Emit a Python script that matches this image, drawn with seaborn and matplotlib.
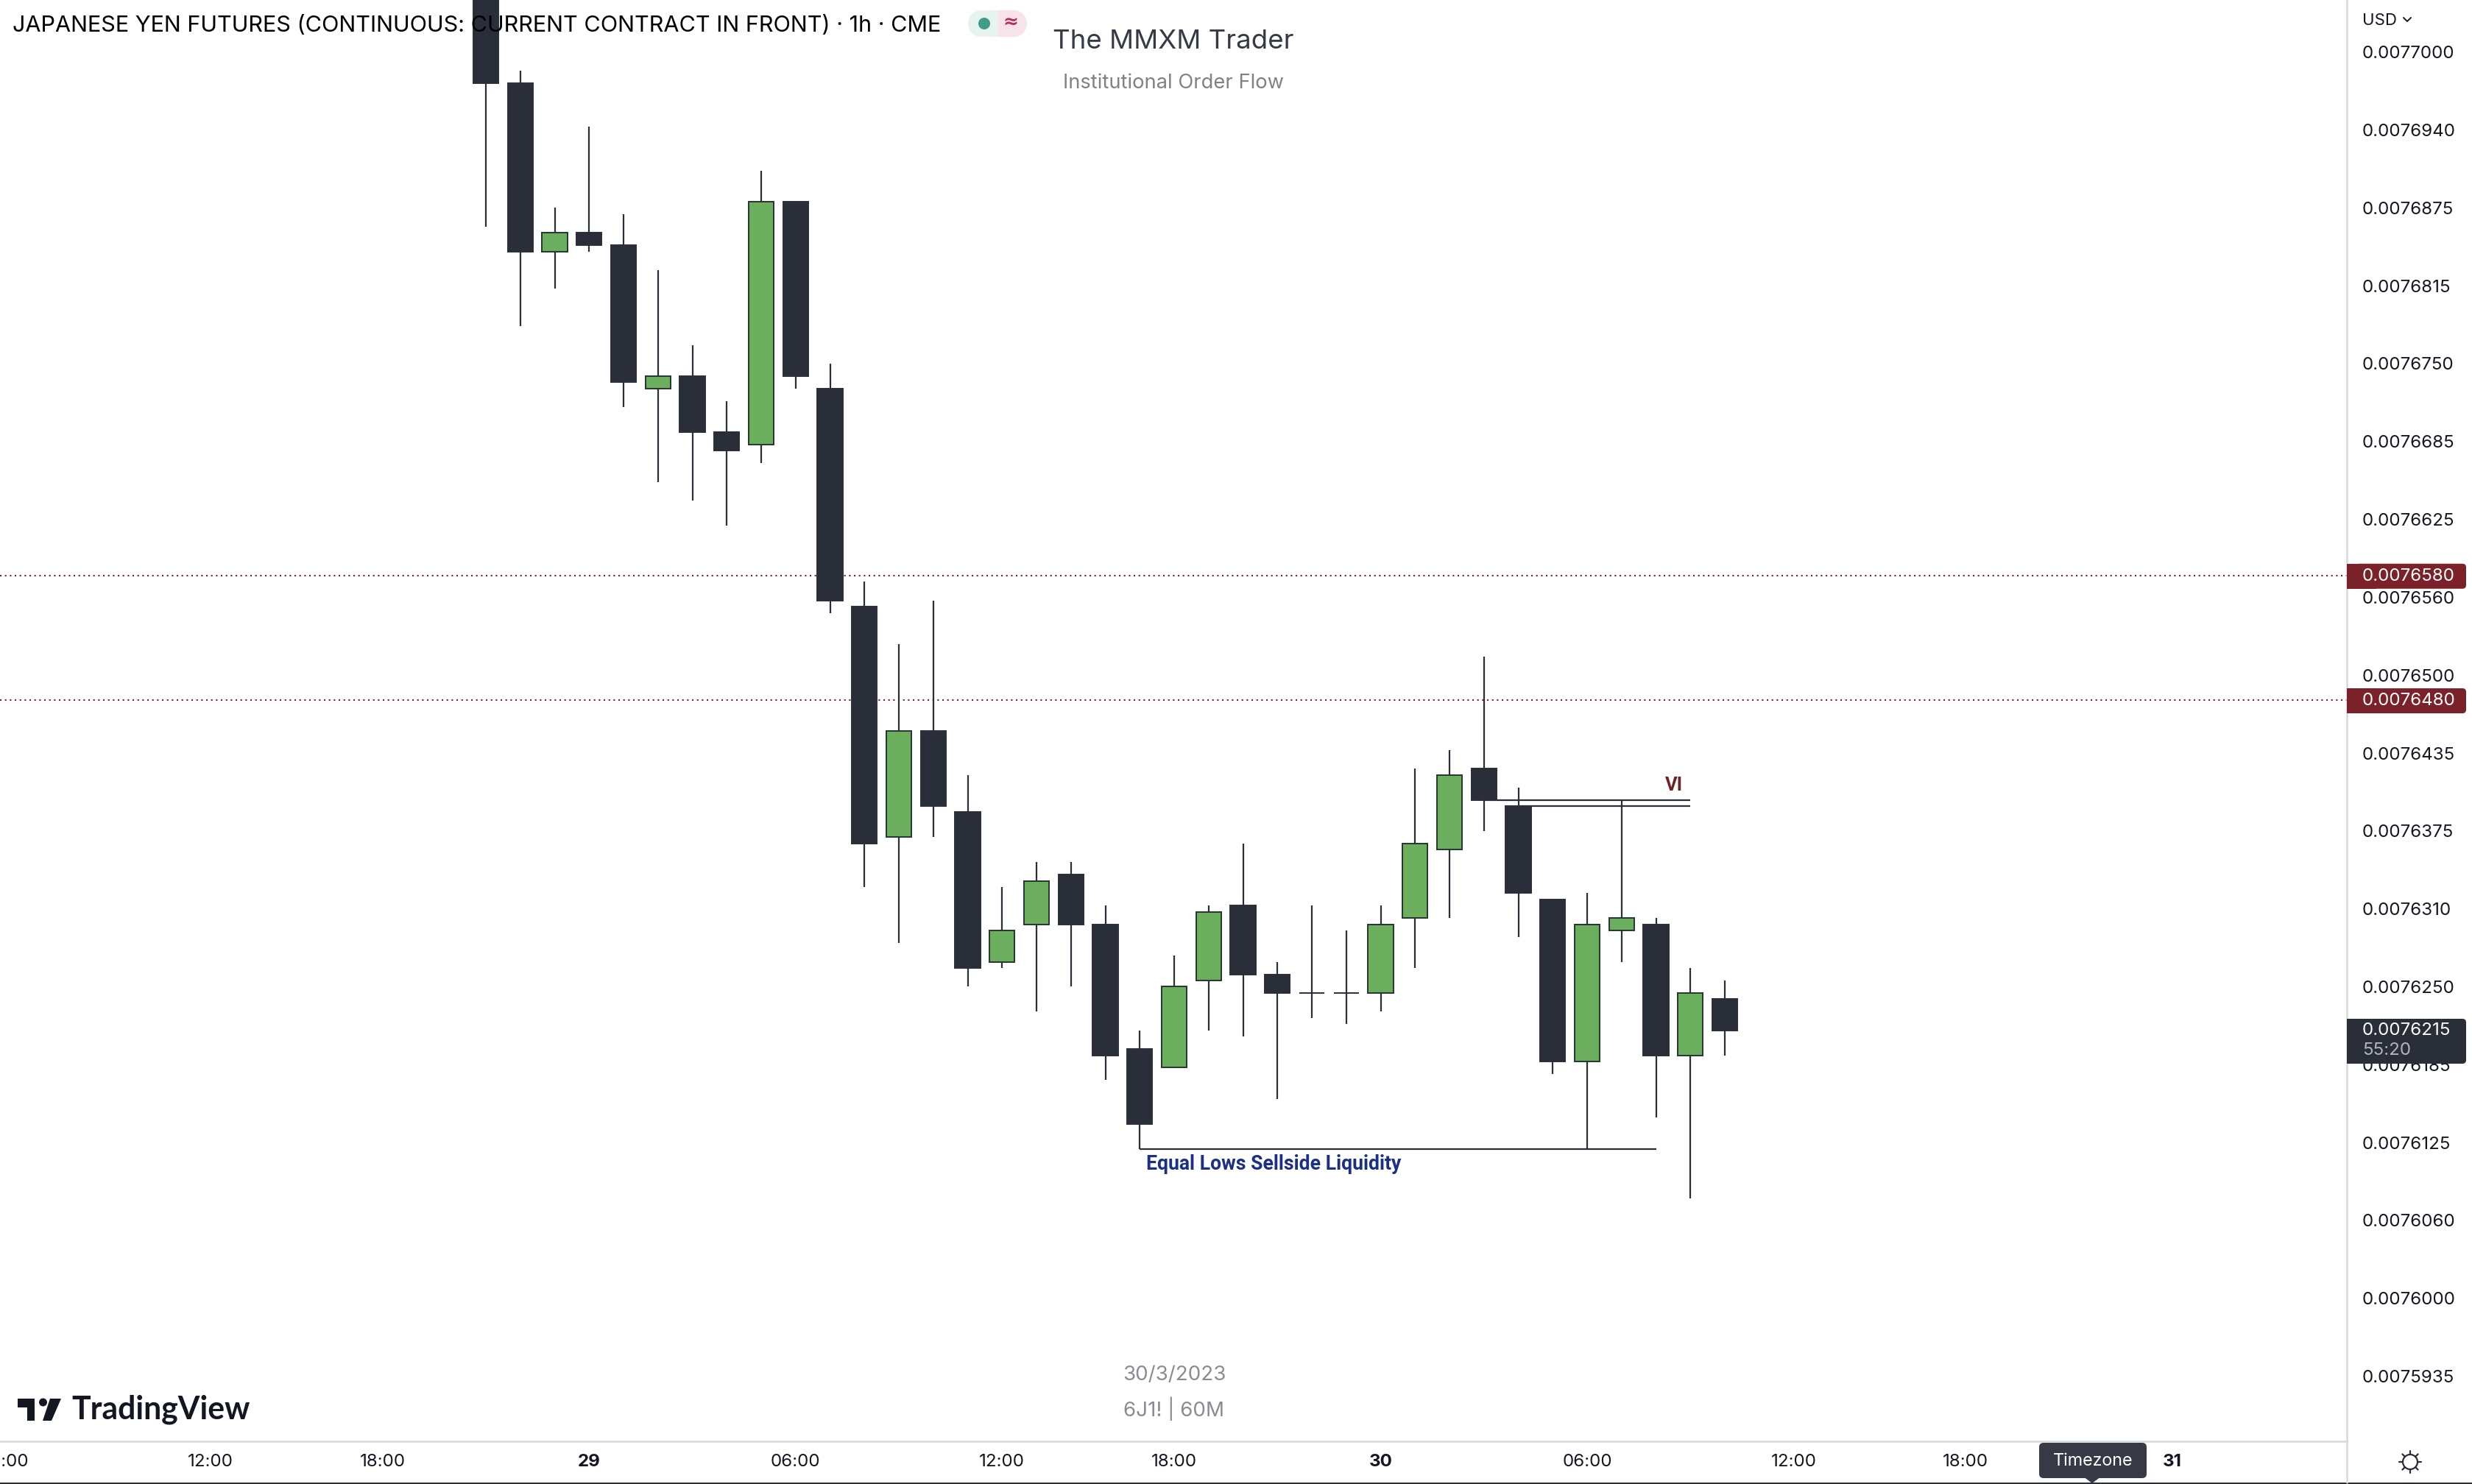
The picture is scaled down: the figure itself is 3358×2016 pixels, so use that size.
import numpy as np
import pandas as pd
import seaborn as sns
import matplotlib.pyplot as plt
from matplotlib.patches import Circle, FancyBboxPatch, Polygon, Rectangle

# candles, hourly 6J1! (first body runs off the top of the pane)
open_p = [0.0077050, 0.0076975, 0.0076840, 0.0076855, 0.0076845, 0.0076730, 0.0076740, 0.0076695, 0.0076685,
          0.0076880, 0.0076730, 0.0076555, 0.0076370, 0.0076455, 0.0076390, 0.0076270, 0.0076300, 0.0076340,
          0.0076300, 0.0076200, 0.0076185, 0.0076255, 0.0076315, 0.0076260, 0.0076245, 0.0076245, 0.0076245,
          0.0076305, 0.0076360, 0.0076425, 0.0076395, 0.0076320, 0.0076190, 0.0076295, 0.0076300, 0.0076195,
          0.0076240]
high_p = [0.0077060, 0.0076985, 0.0076875, 0.0076940, 0.0076870, 0.0076825, 0.0076765, 0.0076720, 0.0076905,
          0.0076880, 0.0076750, 0.0076575, 0.0076525, 0.0076560, 0.0076420, 0.0076330, 0.0076350, 0.0076350,
          0.0076315, 0.0076215, 0.0076275, 0.0076315, 0.0076365, 0.0076270, 0.0076315, 0.0076295, 0.0076315,
          0.0076425, 0.0076440, 0.0076515, 0.0076410, 0.0076320, 0.0076325, 0.0076400, 0.0076305, 0.0076265,
          0.0076255]
low_p = [0.0076860, 0.0076780, 0.0076810, 0.0076840, 0.0076715, 0.0076655, 0.0076640, 0.0076620, 0.0076670,
         0.0076730, 0.0076550, 0.0076330, 0.0076285, 0.0076370, 0.0076250, 0.0076265, 0.0076230, 0.0076250,
         0.0076175, 0.0076120, 0.0076185, 0.0076215, 0.0076210, 0.0076160, 0.0076225, 0.0076220, 0.0076230,
         0.0076265, 0.0076305, 0.0076375, 0.0076290, 0.0076180, 0.0076120, 0.0076270, 0.0076145, 0.0076080,
         0.0076195]
close_p = [0.0076975, 0.0076840, 0.0076855, 0.0076845, 0.0076735, 0.0076740, 0.0076695, 0.0076680, 0.0076880,
           0.0076740, 0.0076560, 0.0076365, 0.0076455, 0.0076395, 0.0076265, 0.0076295, 0.0076335, 0.0076300,
           0.0076195, 0.0076140, 0.0076250, 0.0076310, 0.0076260, 0.0076245, 0.0076245, 0.0076245, 0.0076300,
           0.0076365, 0.0076420, 0.0076400, 0.0076325, 0.0076190, 0.0076300, 0.0076305, 0.0076195, 0.0076245,
           0.0076215]

price_ticks = [0.0077, 0.00769375, 0.0076875, 0.00768125, 0.007675, 0.00766875, 0.0076625, 0.00765625, 0.00765,
               0.00764375, 0.0076375, 0.00763125, 0.007625, 0.00761875, 0.0076125, 0.00760625, 0.0076, 0.00759375]
price_labels = ['0.0077000', '0.0076940', '0.0076875', '0.0076815', '0.0076750', '0.0076685', '0.0076625',
                '0.0076560', '0.0076500', '0.0076435', '0.0076375', '0.0076310', '0.0076250', '0.0076185',
                '0.0076125', '0.0076060', '0.0076000', '0.0075935']
time_ticks = [-14, -8, -3, 3, 9, 15, 20, 26, 32, 38, 43, 49]
time_labels = ['06:00', '12:00', '18:00', '29', '06:00', '12:00', '18:00', '30', '06:00', '12:00', '18:00', '31']
day_labels = ['29', '30', '31']

level_prices = [0.0076580, 0.0076480]
last_price = 0.0076215
eql_price = 0.0076120
vi_top = 0.0076400
vi_bottom = 0.0076395

DARK = '#2a2e39'
GREEN = '#6aae5e'
GREEN_EDGE = '#25352f'
RED = '#7b2129'
AXIS_LINE = '#d9d9d9'
TEXT = '#131722'

W, H = 3358, 2016
PANE_R, PANE_B = 3188, 1958
PX_PER_PRICE = 1.693e7

sns.set_theme(style='white')
plt.rcParams['font.family'] = ['Inter', 'DejaVu Sans']

df = pd.DataFrame({'bar': np.arange(len(open_p)), 'open': open_p, 'high': high_p, 'low': low_p, 'close': close_p})
df['up'] = df['close'] > df['open']
wicks = df.melt(id_vars='bar', value_vars=['high', 'low'], value_name='price').sort_values('bar')

fig = plt.figure(figsize=(W / 200, H / 200), dpi=200, facecolor='white')
ax = fig.add_axes([0, (H - PANE_B) / H, PANE_R / W, PANE_B / H])

# dotted levels go under the candles
for p in level_prices:
    ax.axhline(p, color=RED, lw=0.75, ls=(0, (1, 2.2)), zorder=1)

# annotation lines
ax.plot([19, 34], [eql_price, eql_price], color=DARK, lw=0.8, zorder=2, solid_capstyle='butt')
ax.plot([29, 35], [vi_top, vi_top], color=DARK, lw=0.8, zorder=2, solid_capstyle='butt')
ax.plot([30, 35], [vi_bottom, vi_bottom], color=DARK, lw=0.8, zorder=2, solid_capstyle='butt')

sns.lineplot(data=wicks, x='bar', y='price', units='bar', estimator=None, color=DARK, linewidth=0.8,
             legend=False, ax=ax, zorder=3, solid_capstyle='butt')

for up, color, edge in [(True, GREEN, GREEN_EDGE), (False, DARK, DARK)]:
    part = df[df['up'] == up]
    ax.bar(part['bar'], part['close'] - part['open'], bottom=part['open'], width=0.73,
           color=color, edgecolor=edge, linewidth=0.7, zorder=4)

ax.set_xlim(-660 / 46.75, (PANE_R - 660) / 46.75)
ax.set_ylim(0.0077 - (PANE_B - 70.7) / PX_PER_PRICE, 0.0077 + 70.7 / PX_PER_PRICE)

ax.yaxis.tick_right()
ax.set_yticks(price_ticks)
ax.set_yticklabels(price_labels, fontsize=8.7, color=TEXT)
ax.set_xticks(time_ticks)
ax.set_xticklabels(time_labels, fontsize=8.7, color=TEXT)
for lab in ax.get_xticklabels():
    if lab.get_text() in day_labels:
        lab.set_fontweight('bold')
ax.tick_params(axis='y', length=0, pad=7.5)
ax.tick_params(axis='x', length=0, pad=6)
ax.set_xlabel('')
ax.set_ylabel('')
for s in ['top', 'left']:
    ax.spines[s].set_visible(False)
for s in ['right', 'bottom']:
    ax.spines[s].set_color(AXIS_LINE)
    ax.spines[s].set_linewidth(0.9)

# everything else is placed in image pixels on a clear overlay
ov = fig.add_axes([0, 0, 1, 1], facecolor='none')
ov.set_xlim(0, W)
ov.set_ylim(H, 0)
ov.axis('off')


def y_px(p):
    return 70.7 + (0.0077 - p) * PX_PER_PRICE


ov.text(1557, y_px(eql_price) + 21, 'Equal Lows Sellside Liquidity', family='Roboto', weight='bold', fontsize=9.6,
        color='#1b2f86', va='center')
ov.text(2274, 1067, 'VI', family='Roboto', weight='bold', fontsize=9.2, color='#6d2226', va='center', ha='center')

# header
ov.text(17, 35, 'JAPANESE YEN FUTURES (CONTINUOUS: CURRENT CONTRACT IN FRONT) · 1h · CME', fontsize=11.0,
        color='black', va='center')
ov.add_patch(Rectangle((1333, 14), 23, 36, fc='#e6f3ef', ec='none'))
ov.add_patch(Circle((1333, 32), 18, fc='#e6f3ef', ec='none'))
ov.add_patch(Rectangle((1356, 14), 21, 36, fc='#f8e3ea', ec='none'))
ov.add_patch(Circle((1377, 32), 18, fc='#f8e3ea', ec='none'))
ov.add_patch(Circle((1337, 32), 8, fc='#429b84', ec='none'))
ov.text(1373, 31, '≈', fontsize=9, weight='bold', color='#b62a5c', ha='center', va='center', family='DejaVu Sans')

ov.text(1594, 56, 'The MMXM Trader', fontsize=13.2, color='#363a45', ha='center', va='center')
ov.text(1594, 113, 'Institutional Order Flow', fontsize=9.85, color='#7f8289', ha='center', va='center')
ov.text(1595, 1868, '30/3/2023', fontsize=10, color='#8a8c92', ha='center', va='center')
ov.text(1595, 1914, '6J1! | 60M', fontsize=10, color='#8a8c92', ha='center', va='center')

# TradingView logo
ov.add_patch(Polygon([(24, 1900), (47, 1900), (47, 1930), (37, 1930), (37, 1912), (24, 1912)], fc=TEXT, ec='none'))
ov.add_patch(Circle((58.5, 1905), 5.5, fc=TEXT, ec='none'))
ov.add_patch(Polygon([(68, 1900), (83, 1900), (70, 1930), (58, 1930)], fc=TEXT, ec='none'))
ov.text(97, 1915, 'TradingView', family='Lato', weight='bold', fontsize=15.4, color=TEXT, va='center')

# price scale labels
ov.text(3209, 28, 'USD', fontsize=8, color=TEXT, va='center')
ov.plot([3265, 3270, 3275], [24, 29, 24], color=TEXT, lw=0.7)
for p, lab in zip(level_prices, ['0.0076580', '0.0076480']):
    yc = y_px(p) + 1
    ov.add_patch(Rectangle((3188, yc - 17), 40, 34, fc=RED, ec='none'))
    ov.add_patch(FancyBboxPatch((3200, yc - 17), 150, 34, boxstyle='round,pad=0,rounding_size=5', fc=RED, ec='none'))
    ov.text(3209, yc, lab, fontsize=8.7, color='white', va='center')
ov.add_patch(Rectangle((3188, 1384), 40, 61, fc=DARK, ec='none'))
ov.add_patch(FancyBboxPatch((3200, 1384), 150, 61, boxstyle='round,pad=0,rounding_size=5', fc=DARK, ec='none'))
ov.text(3209, y_px(last_price), '0.0076215', fontsize=8.7, color='white', va='center')
ov.text(3209, 1427, '55:20', fontsize=8.7, color='#b2b5be', va='center')

# bottom strip
ov.plot([PANE_R, PANE_R], [PANE_B, 2014], color=AXIS_LINE, lw=0.9)
ov.add_patch(FancyBboxPatch((2770, 1960), 146, 48, boxstyle='round,pad=0,rounding_size=6', fc='#373a45', ec='none'))
ov.add_patch(Polygon([(2830, 2006), (2854, 2006), (2842, 2015)], fc='#373a45', ec='none'))
ov.text(2843, 1985, 'Timezone', fontsize=8.4, color='white', ha='center', va='center')
ov.add_patch(Rectangle((0, 2014), W, 2, fc=DARK, ec='none'))

# settings gear
ov.add_patch(Circle((3274, 1986), 10, fc='none', ec=DARK, lw=0.8))
for a in np.arange(0, 360, 45):
    dx, dy = np.cos(np.radians(a)), np.sin(np.radians(a))
    ov.plot([3274 + 10 * dx, 3274 + 15 * dx], [1986 + 10 * dy, 1986 + 15 * dy], color=DARK, lw=0.8)

fig.savefig('out.png', dpi=200)
